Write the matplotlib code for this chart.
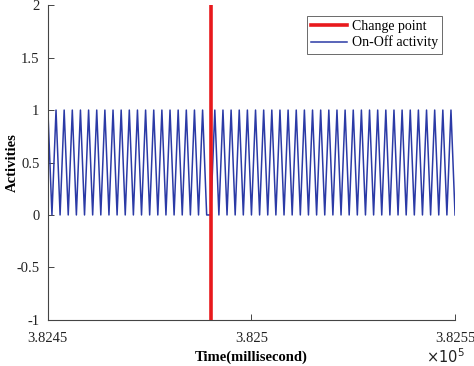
import numpy as np
import matplotlib.pyplot as plt

plt.rcParams['font.family'] = ['Liberation Serif', 'DejaVu Serif']

# Sampled on-off activity, one sample per millisecond
time_ms = np.arange(382450, 382551)
activity_str = ("1010101010101010101010101010101010101010"
                "0"
                "101010101010101010101010101010101010101010101010101010101010")
activity = [int(c) for c in activity_str]

change_point_ms = 382490

xticks = [3.8245, 3.825, 3.8255]
xtick_labels = ['3.8245', '3.825', '3.8255']
yticks = [-1, -0.5, 0, 0.5, 1, 1.5, 2]
ytick_labels = ['-1', '-0.5', '0', '0.5', '1', '1.5', '2']

fig = plt.figure(figsize=(4.74, 3.66), dpi=100)
ax = fig.add_axes([0.101, 0.126, 0.859, 0.86])

ax.plot([change_point_ms / 1e5] * 2, [-1, 2], color='#e8191c', lw=2.6,
        label='Change point', zorder=3)
ax.plot(time_ms / 1e5, activity, color='#2b3aa6', lw=1.1,
        label='On-Off activity')

ax.set_xlim(3.8245, 3.8255)
ax.set_ylim(-1, 2)
ax.set_xticks(xticks)
ax.set_xticklabels(xtick_labels)
ax.set_yticks(yticks)
ax.set_yticklabels(ytick_labels)

for s in ['top', 'right']:
    ax.spines[s].set_visible(False)
for s in ['left', 'bottom']:
    ax.spines[s].set_color('#444444')
    ax.spines[s].set_linewidth(0.8)
ax.tick_params(direction='in', length=4, width=0.7, colors='#444444',
               labelcolor='#222222', labelsize=10.5)
ax.tick_params(axis='x', pad=9)
ax.tick_params(axis='y', pad=6)

ax.set_xlabel('Time(millisecond)', fontweight='bold', fontsize=10.5, labelpad=4)
ax.set_ylabel('Activities', fontweight='bold', fontsize=10.5)
ax.yaxis.set_label_coords(-0.072, 0.5)
fig.text(0.94, 0.0, r'$\times10^5$', fontsize=10.5, color='#222222',
         ha='center', va='bottom', family='DejaVu Serif')

leg = ax.legend(loc='upper right', bbox_to_anchor=(0.975, 0.975), fontsize=10,
                frameon=True, fancybox=False, edgecolor='#444444',
                borderpad=0.3, handlelength=2.6, handletextpad=0.3,
                labelspacing=0.2, borderaxespad=0.2)
leg.get_frame().set_linewidth(0.7)

fig.savefig('out.png', dpi=100)
